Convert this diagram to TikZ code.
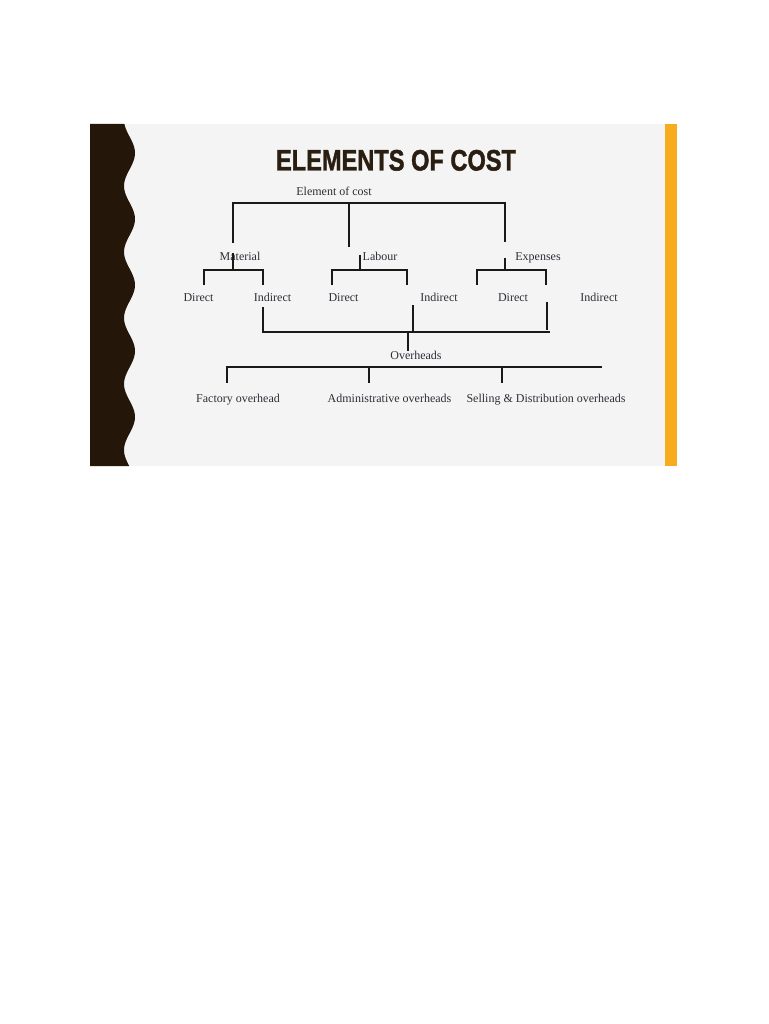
\documentclass[tikz,border=0pt]{standalone}
\usepackage{fontspec}
\usepackage{graphicx}
\setmainfont{Liberation Serif}
\newfontfamily\titlefont{Liberation Sans}[BoldFeatures={FakeBold=1.6}]
\definecolor{bandbrown}{HTML}{241608}
\definecolor{bandorange}{HTML}{F7AC1E}
\definecolor{slidebg}{HTML}{F4F4F4}
\definecolor{ink}{HTML}{2E2E38}
\definecolor{titleink}{HTML}{2A1E12}
\tikzset{
  lbl/.style={font=\fontsize{12}{14}\selectfont, text=ink, inner sep=0pt, anchor=base},
  bar/.style={line width=2.8pt, draw=black!90, line join=miter}
}
\begin{document}
\begin{tikzpicture}[x=1pt,y=-1pt]
\useasboundingbox (0,0) rectangle (768,1024);
\fill[white] (0,0) rectangle (768,1024);
% slide
\fill[slidebg] (90,124) rectangle (677,466);
\fill[bandorange] (665,124) rectangle (677,466);
\fill[bandbrown] (90,124) -- plot[domain=124:466, samples=120, smooth] ({129.5+5.5*sin((\x-153)/66*360+90)},\x) -- (90,466) -- cycle;
% title
\node[inner sep=0pt, text=titleink, anchor=base] (title) at (396,170.5) {\scalebox{0.8}[1]{\titlefont\bfseries\fontsize{29.5}{30}\selectfont ELEMENTS OF COST}};
% labels (baselines)
\node[lbl] (eoc) at (334,196) {Element of cost};
\node[lbl] (mat) at (240,260) {Material};
\node[lbl] (lab) at (380,260) {Labour};
\node[lbl] (exp) at (538,260) {Expenses};
\node[lbl] (md) at (198.5,301) {Direct};
\node[lbl] (mi) at (272.5,301) {Indirect};
\node[lbl] (ld) at (343.5,301) {Direct};
\node[lbl] (li) at (439,301) {Indirect};
\node[lbl] (ed) at (513,301) {Direct};
\node[lbl] (ei) at (599,301) {Indirect};
\node[lbl] (ovh) at (416,359) {Overheads};
\node[lbl] (fo) at (238,402) {Factory overhead};
\node[lbl] (ao) at (389.5,402) {Administrative overheads};
\node[lbl] (so) at (546,402) {Selling \& Distribution overheads};
% junction coordinates
\coordinate (tL) at (233,203); \coordinate (tM) at (349,203); \coordinate (tR) at (505,203);
% top tree
\draw[bar] (233,243) -- (tL) -- (tR) -- (505,242);
\draw[bar] (tM) -- (349,247);
% material bracket
\draw[bar] (233,253) -- (233,270);
\draw[bar] (204,285) -- (204,270) -- (263,270) -- (263,285);
% labour bracket
\draw[bar] (360,255) -- (360,270);
\draw[bar] (332,285) -- (332,270) -- (407,270) -- (407,285);
% expenses bracket
\draw[bar] (505,258) -- (505,270);
\draw[bar] (477,285) -- (477,270) -- (546,270) -- (546,285);
% overheads collection
\coordinate (oL) at (263,332); \coordinate (oR) at (550,332);
\draw[bar] (263,307) -- (oL) -- (oR);
\draw[bar] (413,305) -- (413,332);
\draw[bar] (547,302) -- (547,330);
\draw[bar] (408,332) -- (408,351);
% bottom tree
\coordinate (bL) at (227,367); \coordinate (bR) at (602,367);
\draw[bar] (227,383) -- (bL) -- (bR);
\draw[bar] (369,367) -- (369,383);
\draw[bar] (502,367) -- (502,383);
\end{tikzpicture}
\end{document}
